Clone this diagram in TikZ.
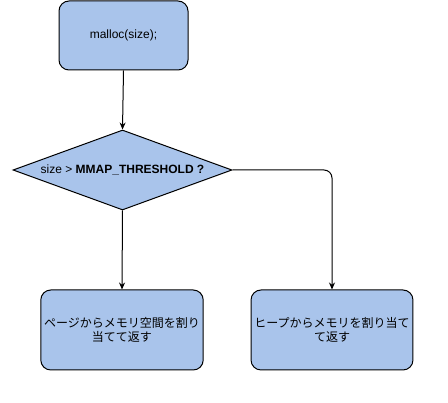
\documentclass[tikz,border=0pt]{standalone}
\usepackage{fontspec}
\setmainfont{Liberation Sans}
\newfontfamily\jpfont{Noto Sans CJK JP}
\usetikzlibrary{shapes.geometric,arrows.meta}
\begin{document}
\begin{tikzpicture}[x=1pt,y=-1pt,
  box/.style={draw=black,fill=boxblue,line width=1pt,rounded corners=10pt,align=center,font=\fontsize{12}{15}\selectfont},
  dec/.style={draw=black,fill=boxblue,line width=1pt,diamond,aspect=2.7375,inner sep=0pt,minimum width=219pt,minimum height=80pt,font=\fontsize{12}{15}\selectfont},
  conn/.style={draw=black,line width=1pt,-{Stealth[length=7pt,width=6pt]}}]
\definecolor{boxblue}{HTML}{A9C4EB}
\useasboundingbox (0,0) rectangle (448,403);
\node[box,minimum width=129pt,minimum height=69pt] (start) at (123.5,35.5) {malloc(size);};
\node[dec] (d) at (122.5,170) {size > \textbf{MMAP\_THRESHOLD ?}};
\node[box,minimum width=160pt,minimum height=80pt] (left) at (122,330) {\jpfont ページからメモリ空間を割り\\[-1pt]\jpfont 当てて返す};
\node[box,minimum width=160pt,minimum height=80pt] (right) at (332,330) {\jpfont ヒープからメモリを割り当て\\[-1pt]\jpfont て返す};
\draw[conn] (start.south) -- (d.north);
\draw[conn] (d.south) -- (left.north);
\draw[conn,rounded corners=8pt] (d.east) -- (right.north |- d.east) -- (right.north);
\end{tikzpicture}
\end{document}
